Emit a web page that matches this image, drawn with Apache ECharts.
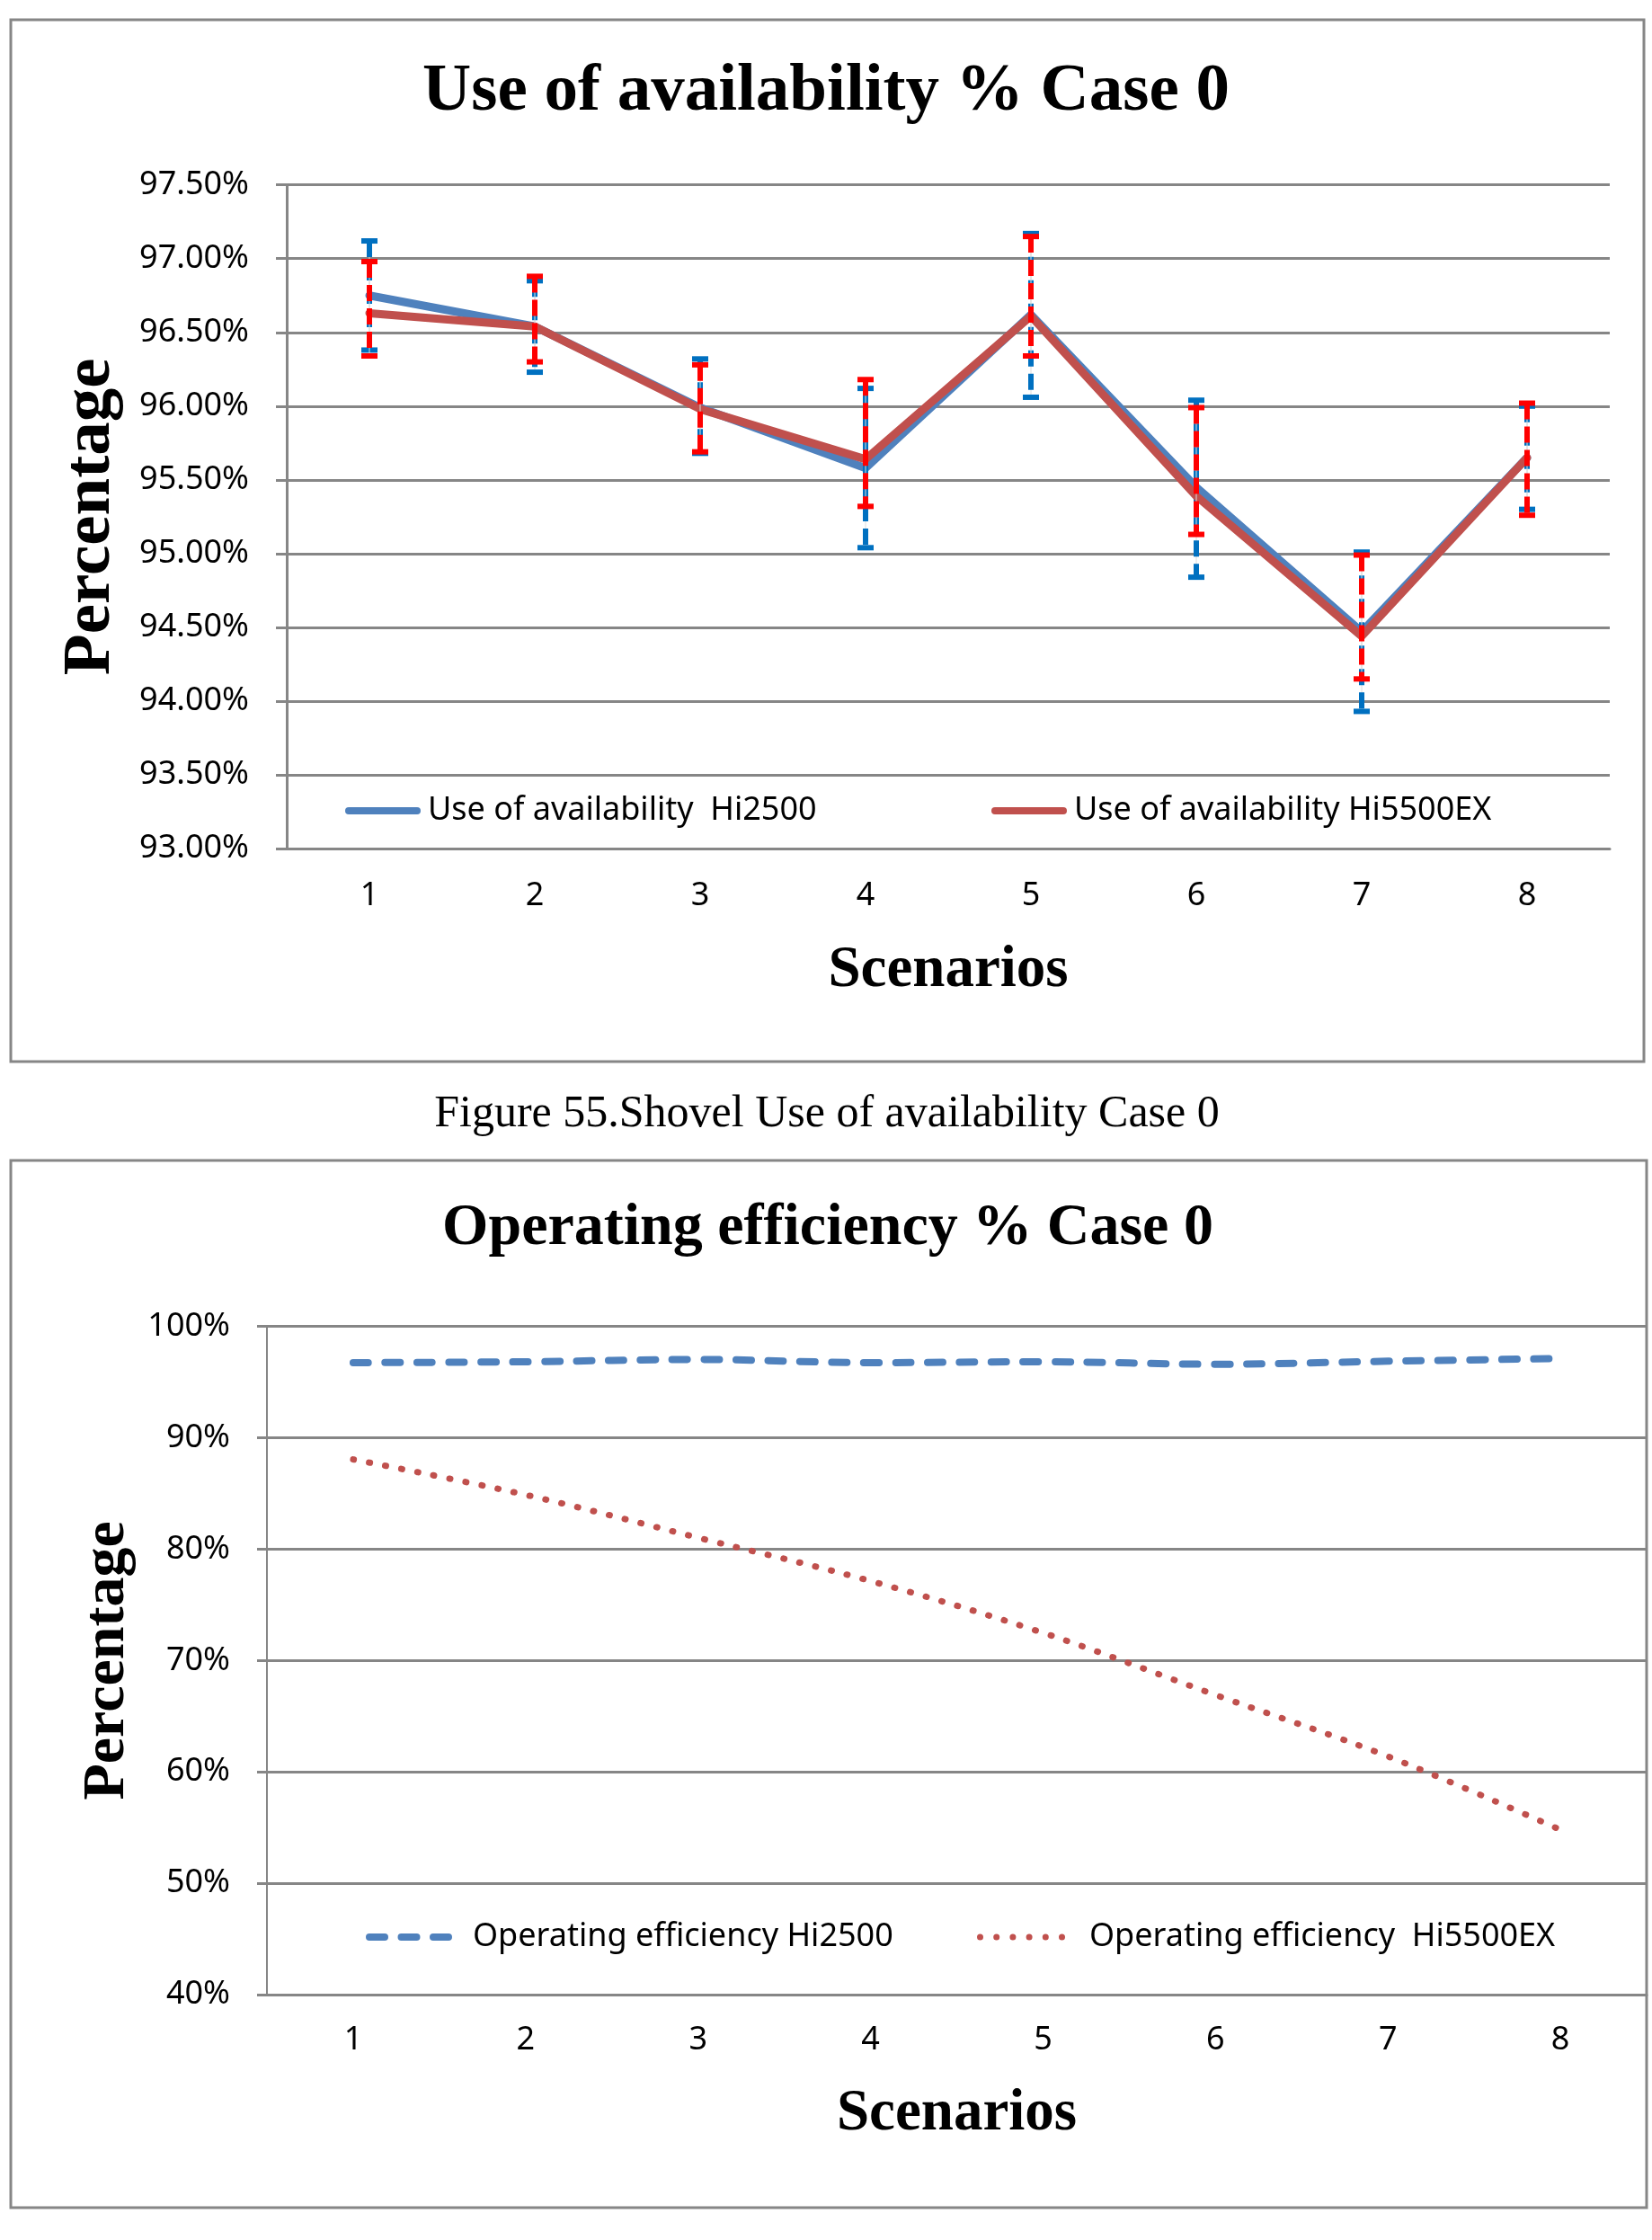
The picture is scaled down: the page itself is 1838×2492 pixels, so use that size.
<!DOCTYPE html>
<html><head><meta charset="utf-8">
<script src="https://cdn.jsdelivr.net/npm/echarts@6/dist/echarts.min.js"></script>
<style>html,body{margin:0;padding:0;background:#fff}#c{width:1838px;height:2492px}</style>
</head><body><div id="c"></div>
<script>
// ---------- data ----------
const scenarios = ['1', '2', '3', '4', '5', '6', '7', '8'];
// Chart 1: Use of availability (%)
const useHi2500      = [96.75, 96.54, 95.99, 95.58, 96.62, 95.45, 94.47, 95.65];
const useHi5500EX    = [96.63, 96.54, 95.98, 95.64, 96.61, 95.39, 94.44, 95.65];
const useHi2500Low   = [96.38, 96.23, 95.68, 95.04, 96.06, 94.84, 93.93, 95.30];
const useHi2500High  = [97.12, 96.85, 96.32, 96.12, 97.17, 96.04, 95.01, 96.00];
const useHi5500Low   = [96.34, 96.30, 95.69, 95.32, 96.34, 95.13, 94.15, 95.26];
const useHi5500High  = [96.98, 96.88, 96.28, 96.18, 97.15, 95.99, 94.99, 96.02];
// Chart 2: Operating efficiency (%)
const effHi2500   = [96.75, 96.83, 97.04, 96.75, 96.83, 96.61, 96.88, 97.12];
const effHi5500EX = [88.06, 84.88, 81.03, 77.14, 72.49, 66.91, 61.39, 54.80];
// axis ticks
const useTicks = {min: 93, max: 97.5, interval: 0.5};
const effTicks = {min: 40, max: 100, interval: 10};

// ---------- styling ----------
const GRAY = '#868686';
const SANS = 'Noto Sans';
const SERIF = 'Liberation Serif';

function errRender(color) {
  return function (params, api) {
    const x = api.value(0), lo = api.value(1), hi = api.value(2);
    const pH = api.coord([x, hi]), pL = api.coord([x, lo]);
    const cw = 9;
    return {
      type: 'group',
      children: [
        {type: 'line', shape: {x1: pH[0], y1: pH[1], x2: pL[0], y2: pL[1]}, style: {stroke: '#dcdcdc', lineWidth: 1}},
        {type: 'line', shape: {x1: pH[0], y1: pH[1], x2: pL[0], y2: pL[1]}, style: {stroke: color, lineWidth: 6, lineDash: [18, 8]}},
        {type: 'line', shape: {x1: pH[0] - cw, y1: pH[1], x2: pH[0] + cw, y2: pH[1]}, style: {stroke: color, lineWidth: 6}},
        {type: 'line', shape: {x1: pL[0] - cw, y1: pL[1], x2: pL[0] + cw, y2: pL[1]}, style: {stroke: color, lineWidth: 6}}
      ]
    };
  };
}
function errData(lo, hi) { return scenarios.map((s, i) => [i, lo[i], hi[i]]); }

// legend icons (pure legend swatches)
const ICON_SOLID = 'path://M4,0H80A4,4 0 0 1 80,8H4A4,4 0 0 1 4,0Z';
const ICON_DASH = 'path://M4,0H21A4,4 0 0 1 21,8H4A4,4 0 0 1 4,0Z M39.5,0H56.5A4,4 0 0 1 56.5,8H39.5A4,4 0 0 1 39.5,0Z M75,0H92A4,4 0 0 1 92,8H75A4,4 0 0 1 75,0Z';
function dotsPath() {
  let d = 'path://';
  for (let k = 0; k < 6; k++) {
    const cx = 3.5 + k * 18.2;
    d += 'M' + (cx - 3.5) + ',3.5A3.5,3.5 0 1 0 ' + (cx + 3.5) + ',3.5A3.5,3.5 0 1 0 ' + (cx - 3.5) + ',3.5Z ';
  }
  return d;
}
const ICON_DOT = dotsPath();

const axisLabelStyle = {fontFamily: SANS, fontSize: 36, color: '#000'};
const nameStyle = (size) => ({fontFamily: SERIF, fontWeight: 'bold', fontSize: size, color: '#000', verticalAlign: 'middle', align: 'center'});
const legendText = (pad) => ({fontFamily: SANS, fontSize: 36, color: '#000', padding: [0, 0, 0, pad]});

const option = {
  animation: false,
  backgroundColor: '#fff',
  grid: [
    {left: 319, top: 205.7, right: 47, bottom: 2492 - 944},
    {left: 297, top: 1475.7, right: 6, bottom: 2492 - 2219}
  ],
  xAxis: [
    {gridIndex: 0, type: 'category', data: scenarios, boundaryGap: true,
     axisLine: {show: true, lineStyle: {color: GRAY, width: 3}}, axisTick: {show: false},
     axisLabel: Object.assign({margin: 35}, axisLabelStyle),
     name: 'Scenarios', nameLocation: 'middle', nameGap: 136, nameTextStyle: nameStyle(65)},
    {gridIndex: 1, type: 'category', data: scenarios, boundaryGap: true,
     axisLine: {show: true, lineStyle: {color: GRAY, width: 3}}, axisTick: {show: false},
     axisLabel: Object.assign({margin: 33}, axisLabelStyle),
     name: 'Scenarios', nameLocation: 'middle', nameGap: 133, nameTextStyle: nameStyle(65)}
  ],
  yAxis: [
    {gridIndex: 0, type: 'value', min: useTicks.min, max: useTicks.max, interval: useTicks.interval,
     axisLine: {show: true, lineStyle: {color: GRAY, width: 3}},
     axisTick: {show: true, length: 12, lineStyle: {color: GRAY, width: 3}},
     splitLine: {show: true, lineStyle: {color: GRAY, width: 3}},
     axisLabel: Object.assign({margin: 42, formatter: v => v.toFixed(2) + '%'}, axisLabelStyle),
     name: 'Percentage', nameLocation: 'middle', nameGap: 217, nameRotate: 90, nameTextStyle: nameStyle(75)},
    {gridIndex: 1, type: 'value', min: effTicks.min, max: effTicks.max, interval: effTicks.interval,
     axisLine: {show: true, lineStyle: {color: GRAY, width: 2}},
     axisTick: {show: true, length: 11, lineStyle: {color: GRAY, width: 3}},
     splitLine: {show: true, lineStyle: {color: GRAY, width: 3}},
     axisLabel: Object.assign({margin: 41, formatter: v => v + '%'}, axisLabelStyle),
     name: 'Percentage', nameLocation: 'middle', nameGap: 177, nameRotate: 90, nameTextStyle: nameStyle(66)}
  ],
  legend: [
    {data: [{name: 'Use of availability  Hi2500', icon: ICON_SOLID}], left: 379, top: 879, itemWidth: 84, itemHeight: 8,
     selectedMode: false, textStyle: legendText(3)},
    {data: [{name: 'Use of availability Hi5500EX', icon: ICON_SOLID}], left: 1098, top: 879, itemWidth: 84, itemHeight: 8,
     selectedMode: false, textStyle: legendText(3)},
    {data: [{name: 'Operating efficiency Hi2500', icon: ICON_DASH}], left: 402, top: 2132, itemWidth: 96, itemHeight: 8,
     selectedMode: false, textStyle: legendText(18)},
    {data: [{name: 'Operating efficiency  Hi5500EX', icon: ICON_DOT}], left: 1082, top: 2132, itemWidth: 98, itemHeight: 7,
     selectedMode: false, textStyle: legendText(22)}
  ],
  series: [
    {name: 'Use of availability  Hi2500', type: 'line', xAxisIndex: 0, yAxisIndex: 0, data: useHi2500,
     symbol: 'none', z: 2, color: '#4F81BD',
     lineStyle: {color: '#4F81BD', width: 9, cap: 'round', join: 'round'}},
    {name: 'errHi2500', type: 'custom', xAxisIndex: 0, yAxisIndex: 0, data: errData(useHi2500Low, useHi2500High),
     encode: {x: 0, y: [1, 2]}, renderItem: errRender('#0070C0'), z: 3, silent: true},
    {name: 'Use of availability Hi5500EX', type: 'line', xAxisIndex: 0, yAxisIndex: 0, data: useHi5500EX,
     symbol: 'none', z: 4, color: '#C0504D',
     lineStyle: {color: '#C0504D', width: 9, cap: 'round', join: 'round'}},
    {name: 'errHi5500EX', type: 'custom', xAxisIndex: 0, yAxisIndex: 0, data: errData(useHi5500Low, useHi5500High),
     encode: {x: 0, y: [1, 2]}, renderItem: errRender('#FF0000'), z: 5, silent: true},
    {name: 'Operating efficiency Hi2500', type: 'line', xAxisIndex: 1, yAxisIndex: 1, data: effHi2500,
     symbol: 'none', smooth: 0.35, color: '#4F81BD',
     lineStyle: {color: '#4F81BD', width: 8, type: [17, 18.5], cap: 'round'}},
    {name: 'Operating efficiency  Hi5500EX', type: 'line', xAxisIndex: 1, yAxisIndex: 1, data: effHi5500EX,
     symbol: 'none', smooth: 0.35, color: '#C0504D',
     lineStyle: {color: '#C0504D', width: 7, type: [1, 17.2], cap: 'round'}}
  ],
  graphic: [
    {type: 'rect', shape: {x: 12, y: 22, width: 1817, height: 1159}, style: {fill: 'none', stroke: GRAY, lineWidth: 3}, z: -1},
    {type: 'rect', shape: {x: 12, y: 1291, width: 1820, height: 1165}, style: {fill: 'none', stroke: GRAY, lineWidth: 3}, z: -1},
    {type: 'text', x: 919, y: 103, style: {text: 'Use of availability % Case 0', align: 'center', verticalAlign: 'middle',
      font: 'bold 75px "Liberation Serif"', fill: '#000'}},
    {type: 'text', x: 920, y: 1240, style: {text: 'Figure 55.Shovel Use of availability Case 0', align: 'center', verticalAlign: 'middle',
      font: '50px "Liberation Serif"', fill: '#000'}},
    {type: 'text', x: 921, y: 1367, style: {text: 'Operating efficiency % Case 0', align: 'center', verticalAlign: 'middle',
      font: 'bold 66px "Liberation Serif"', fill: '#000'}}
  ]
};
const chart = echarts.init(document.getElementById('c'), null, {renderer: 'canvas'});
chart.setOption(option);
</script></body></html>
